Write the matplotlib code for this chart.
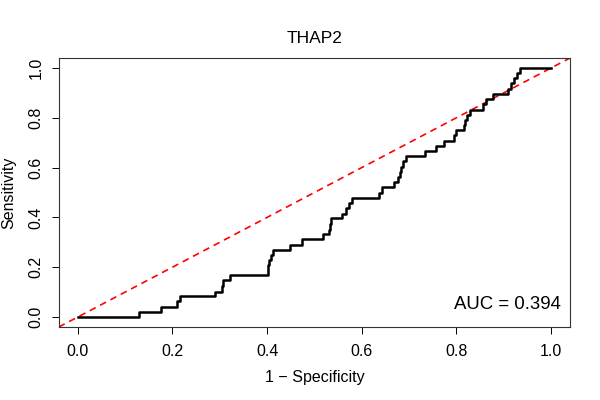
import numpy as np
import matplotlib
matplotlib.use('Agg')
import matplotlib.pyplot as plt

plt.rcParams['font.family'] = ['Liberation Sans', 'DejaVu Sans']

# ROC step points: (1 - specificity) where a step happens
# and the sensitivity level reached after that step
fpr = [0.0, 0.129, 0.175, 0.209, 0.217, 0.291, 0.304, 0.307, 0.322,
       0.401, 0.403, 0.405, 0.408, 0.413, 0.448, 0.473, 0.518,
       0.531, 0.533, 0.535, 0.558, 0.567, 0.573, 0.579, 0.637, 0.642,
       0.669, 0.676, 0.680, 0.683, 0.688, 0.694, 0.734, 0.757, 0.774,
       0.794, 0.799, 0.816, 0.819, 0.822, 0.829, 0.857, 0.863, 0.877,
       0.910, 0.916, 0.922, 0.929, 0.935, 1.0]
tpr = [0.0, 0.022, 0.042, 0.063, 0.084, 0.102, 0.125, 0.147, 0.167,
       0.19, 0.21, 0.23, 0.25, 0.27, 0.29, 0.314, 0.333,
       0.35, 0.375, 0.396, 0.414, 0.437, 0.458, 0.479, 0.50, 0.521,
       0.542, 0.563, 0.583, 0.604, 0.625, 0.646, 0.667, 0.687, 0.708,
       0.729, 0.75, 0.771, 0.79, 0.81, 0.833, 0.854, 0.875, 0.896,
       0.917, 0.938, 0.958, 0.979, 1.0, 1.0]
title = 'THAP2'
auc_label = 'AUC = 0.394'
ticks = [0.0, 0.2, 0.4, 0.6, 0.8, 1.0]

fig = plt.figure(figsize=(6, 4), dpi=100)
ax = fig.add_axes([0.098, 0.1825, 0.852, 0.6725])

ax.step(fpr, tpr, where='post', color='black', lw=1.8, zorder=3)
ax.axline((0, 0), slope=1, color='red', ls=(0, (4, 3)), lw=1.2, zorder=2)

ax.set_xlim(-0.04, 1.04)
ax.set_ylim(-0.04, 1.04)
ax.set_xticks(ticks)
ax.set_yticks(ticks)
ax.set_xticklabels([f'{t:.1f}' for t in ticks], fontsize=11.5)
ax.set_yticklabels([f'{t:.1f}' for t in ticks], fontsize=11.5, rotation=90, va='center')
ax.tick_params(direction='out', length=5, width=0.7)
ax.tick_params(axis='x', pad=7)
ax.tick_params(axis='y', pad=6)
for s in ax.spines.values():
    s.set_linewidth(0.8)
    s.set_color('#333333')

ax.set_xlabel('1 \u2212 Specificity', fontsize=11.5, labelpad=8)
ax.set_ylabel('Sensitivity', fontsize=11.5, labelpad=9)
ax.set_title(title, fontsize=12.5, pad=11)
ax.text(1.02, 0.05, auc_label, ha='right', va='center', fontsize=13.4)

fig.savefig('out.png', dpi=100)
